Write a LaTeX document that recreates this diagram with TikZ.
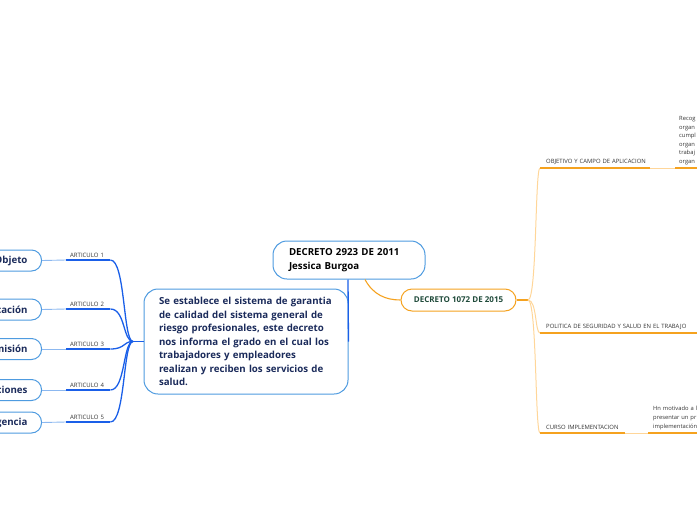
\documentclass[tikz,border=0pt]{standalone}
\usepackage{fontspec}
\setmainfont{Open Sans}
\definecolor{boxblue}{HTML}{4E9BE0}
\definecolor{thickblue}{HTML}{1A5FE8}
\definecolor{lightblue}{HTML}{8CB8F0}
\definecolor{navy}{HTML}{1B2B5B}
\definecolor{orangeC}{HTML}{F5A21F}
\definecolor{lightorange}{HTML}{FFD699}
\definecolor{darkgreen}{HTML}{1F4A3A}
\definecolor{labelgray}{HTML}{333333}
\begin{document}
\begin{tikzpicture}[x=1pt,y=-1pt,
  bluebox/.style={draw=boxblue, line width=1pt, fill=white, rounded corners=14pt,
    font=\bfseries\fontsize{9.7}{13.5}\selectfont, text=navy, align=left},
  orangebox/.style={draw=orangeC, line width=1pt, fill=white, rounded corners=11pt,
    font=\bfseries\fontsize{8}{10}\selectfont, text=darkgreen},
  leftnode/.style={draw=boxblue, line width=1pt, fill=white, rounded corners=10pt,
    minimum height=21pt, inner xsep=14pt, font=\bfseries\fontsize{9.7}{12}\selectfont, text=navy},
  artlabel/.style={anchor=south west, inner xsep=4pt, inner ysep=2.5pt, text width=36pt,
    align=left, font=\fontsize{6}{7}\selectfont, text=labelgray},
  topic/.style={anchor=south west, inner xsep=6pt, inner ysep=3pt, align=left,
    font=\fontsize{5.9}{7}\selectfont, text=labelgray},
  tinytext/.style={anchor=south west, align=left, inner ysep=3pt,
    font=\fontsize{5.8}{8.5}\selectfont, text=labelgray},
  thickblueline/.style={draw=thickblue, line width=1.3pt},
  lightblueline/.style={draw=lightblue, line width=0.9pt},
  orangeline/.style={draw=orangeC, line width=1.1pt},
  orangethick/.style={draw=orangeC, line width=1.5pt},
  lightorangeline/.style={draw=lightorange, line width=1pt}]
\useasboundingbox (0,0) rectangle (697,520);

% central
\node[bluebox, text=black, text width=120pt, inner xsep=16pt, minimum height=38pt] (root) at (349,260)
  {DECRETO 2923 DE 2011\\Jessica Burgoa};

% description
\node[bluebox, text width=174pt, inner xsep=15pt, minimum height=105pt] (desc) at (246,341.5)
  {Se establece el sistema de garantia\\de calidad del sistema general de\\riesgo profesionales, este decreto\\nos informa el grado en el cual los\\trabajadores y empleadores\\realizan y reciben los servicios de\\salud.};

\draw[thickblueline] ([xshift=-1pt]root.south) -- (desc.east);

% decreto 1072
\node[orangebox, minimum width=115pt, minimum height=22pt] (d1072) at (458.5,300) {DECRETO 1072 DE 2015};
\draw[orangeline] ([xshift=16pt]root.south) .. controls +(8,15) and +(-15,0) .. (d1072.west);

\coordinate (rhub) at (528,300);
\draw[orangeline] (d1072.east) -- (rhub);

% right topics
\node[topic, text width=98pt] (obj) at (540,168) {\mbox{OBJETIVO Y CAMPO DE APLICACION}};
\node[topic, text width=160pt] (pol) at (540,333) {\mbox{POLITICA DE SEGURIDAD Y SALUD EN EL TRABAJO}};
\node[topic, text width=73pt] (cur) at (540,433) {\mbox{CURSO IMPLEMENTACION}};

\draw[lightorangeline] (rhub) .. controls (537,300) and (535,168) .. (obj.south west);
\draw[lightorangeline] (rhub) .. controls (537,300) and (535,333) .. (pol.south west);
\draw[lightorangeline] (rhub) .. controls (537,300) and (535,433) .. (cur.south west);

\draw[orangethick] (obj.south west) -- (obj.south east);
\draw[orangethick] (pol.south west) -- (pol.south east);
\draw[orangethick] (cur.south west) -- (cur.south east);

% children text
\node[tinytext, inner xsep=4pt, text width=40pt] (objtxt) at (675,168)
  {Recog\\organ\\cumpl\\organ\\trabaj\\organ};
\node[tinytext, inner xsep=5pt, text width=60pt, font=\fontsize{5.8}{9}\selectfont] (curtxt) at (648,433)
  {Hn motivado a l\\presentar un pr\\implementación};

\draw[lightorangeline] (obj.south east) -- (objtxt.south west);
\draw[orangethick] (objtxt.south west) -- (objtxt.south east);
\draw[lightorangeline] (cur.south east) -- (curtxt.south west);
\draw[orangethick] (curtxt.south west) -- (curtxt.south east);

% left side
\coordinate (lhub) at (133,341.5);
\draw[thickblueline] (desc.west) -- (lhub);

\node[artlabel] (a1) at (66,260) {ARTICULO 1};
\node[artlabel] (a2) at (66,309) {ARTICULO 2};
\node[artlabel] (a3) at (66,349) {ARTICULO 3};
\node[artlabel] (a4) at (66,390) {ARTICULO 4};
\node[artlabel] (a5) at (66,422) {ARTICULO 5};

\foreach \a in {a1,a2,a3,a4,a5}{
  \draw[thickblueline] (\a.south west) -- (\a.south east);
  \draw[thickblueline] (\a.south east) .. controls +(15,0) and +(-10,0) .. (lhub);
}

\node[leftnode, anchor=east] (n1) at (42,260.5) {Objeto};
\node[leftnode, anchor=east] (n2) at (42,309.5) {cación};
\node[leftnode, anchor=east] (n3) at (42,349) {misión};
\node[leftnode, anchor=east] (n4) at (42,390) {ciones};
\node[leftnode, anchor=east] (n5) at (42,422.5) {gencia};

\draw[lightblueline] (n1.east) -- (a1.south west);
\draw[lightblueline] (n2.east) -- (a2.south west);
\draw[lightblueline] (n3.east) -- (a3.south west);
\draw[lightblueline] (n4.east) -- (a4.south west);
\draw[lightblueline] (n5.east) -- (a5.south west);
\end{tikzpicture}
\end{document}
